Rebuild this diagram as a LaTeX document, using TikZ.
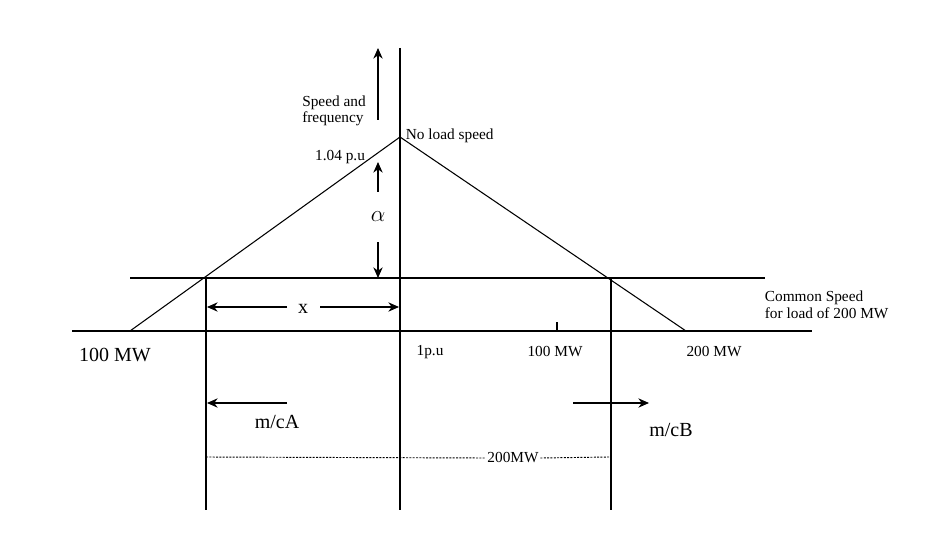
\documentclass[tikz,border=0pt]{standalone}
\usepackage{fontspec}
\usetikzlibrary{arrows.meta}
\setmainfont{Liberation Serif}
\begin{document}
\begin{tikzpicture}[x=0.75pt,y=-0.75pt,line width=0.8pt,
  sm/.style={font=\fontsize{11.5}{12.5}\selectfont,inner sep=1pt},
  lg/.style={font=\fontsize{15}{16}\selectfont,inner sep=1pt},
  arr/.style={-{Stealth[length=8pt,width=7pt]}}]
\useasboundingbox (0,0) rectangle (937,538);
\coordinate (vt) at (400,48); \coordinate (vb) at (400,510);
\draw (vt) -- (vb);
\coordinate (hl) at (72,331); \coordinate (hr) at (812,331);
\draw (hl) -- (hr);
\coordinate (cl) at (130,278); \coordinate (cr) at (765,278);
\draw (cl) -- (cr);
\coordinate (pk) at (400,137);
\coordinate (la) at (130,331); \coordinate (ra) at (686,331);
\draw (la) -- (pk) -- (ra);
\coordinate (lv1) at (206,278); \coordinate (lv2) at (206,510);
\coordinate (rv1) at (611,278); \coordinate (rv2) at (611,510);
\draw (lv1) -- (lv2); \draw (rv1) -- (rv2);
\coordinate (t1) at (557,322); \coordinate (t2) at (557,331);
\draw (t1) -- (t2);
\coordinate (sa1) at (378,120); \coordinate (sa2) at (378,48);
\draw[arr] (sa1) -- (sa2);
\node[sm,align=left] (sf) at (334,111) {Speed and\\frequency};
\node[sm,anchor=west] (nl) at (404,136) {No load speed};
\node[sm] (p104) at (340,157) {1.04 p.u};
\coordinate (a1) at (378,192); \coordinate (a2) at (378,162);
\coordinate (a3) at (378,242); \coordinate (a4) at (378,278);
\draw[arr] (a1) -- (a2); \draw[arr] (a3) -- (a4);
\node[lg] (al) at (378,217) {\fontsize{19}{20}\selectfont$\alpha$};
\coordinate (x1) at (287,307); \coordinate (x2) at (207,307);
\coordinate (x3) at (320,307); \coordinate (x4) at (399,307);
\draw[arr] (x1) -- (x2); \draw[arr] (x3) -- (x4);
\node[lg] (xl) at (303,309) {x};
\node[sm,anchor=west,align=left] (cs) at (763,305) {Common Speed\\for load of 200 MW};
\node[lg] (m1) at (115,355) {100 MW};
\node[sm] (pu) at (430,352) {1p.u};
\node[sm] (m2) at (555,352) {100 MW};
\node[sm] (m3) at (714,352) {200 MW};
\coordinate (ma1) at (287,403); \coordinate (ma2) at (207,403);
\draw[arr] (ma1) -- (ma2);
\node[lg] (mca) at (277,422) {m/cA};
\coordinate (mb1) at (573,403); \coordinate (mb2) at (649,403);
\draw[arr] (mb1) -- (mb2);
\node[lg] (mcb) at (671,430) {m/cB};
\node[sm] (t200) at (513,458) {200MW};
\coordinate (d1) at (206,457); \coordinate (d2) at (609,457);
\draw[dash pattern=on 1.5pt off 1pt,line width=0.7pt] (d1) -- (t200.west);
\draw[dash pattern=on 1.5pt off 1pt,line width=0.7pt] (t200.east) -- (d2);
\end{tikzpicture}
\end{document}
